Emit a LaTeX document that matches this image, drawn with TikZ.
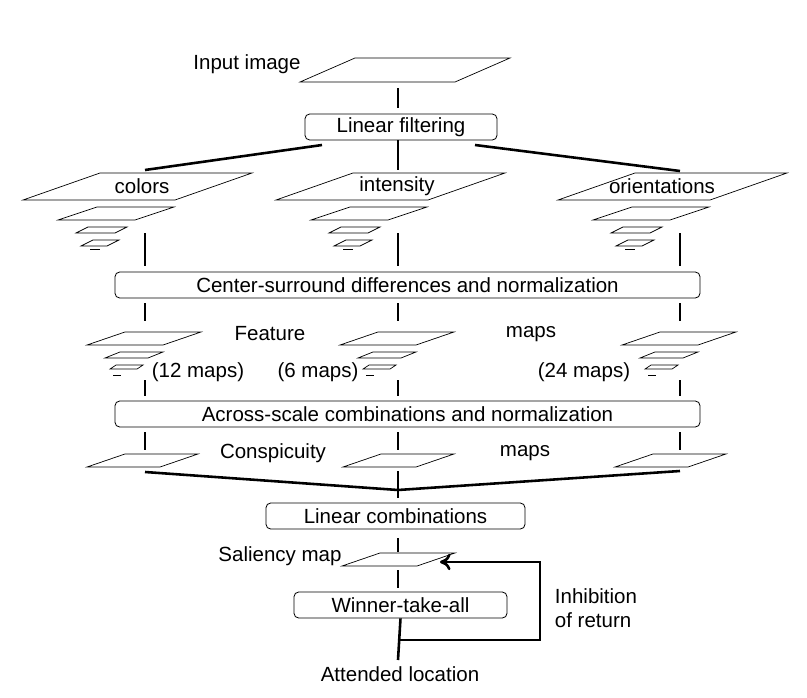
\documentclass[tikz,border=0pt]{standalone}
\usepackage{fontspec}
\setmainfont{Liberation Sans}
\usetikzlibrary{arrows,arrows.meta,positioning}
\tikzset{
 >=stealth',
 stage/.style={draw,rounded corners=4pt,line width=.7pt,inner sep=0pt,font=\fontsize{17.5}{20}\selectfont},
 lab/.style={font=\fontsize{17.5}{20}\selectfont,inner sep=0pt},
 flow/.style={line width=2.2pt},
 sheet/.style={line width=.6pt}
}
% bottom-left corner, width, skew, height
\newcommand{\plane}[5]{\draw[sheet] (#1,#2) -- ++(#3,0) -- ++(#4,-#5) -- ++(-#3,0) -- cycle;}
\newcommand{\pyramid}[1]{%
 \plane{#1-122}{200}{152}{77}{27}
 \plane{#1-87}{220}{77}{39}{13}
 \plane{#1-69}{233}{39}{12}{6}
 \plane{#1-64}{246}{26}{12}{6}
 \draw[sheet] (#1-55,249) -- (#1-45,249);}
\newcommand{\fmaps}[1]{%
 \plane{#1-58}{345}{76}{38}{13}
 \plane{#1-40}{358}{43}{15}{6}
 \plane{#1-35}{369}{27}{6}{4}
 \draw[sheet] (#1-32,375) -- (#1-24,375);}

\begin{document}
\begin{tikzpicture}[x=0.03cm,y=-0.03cm]
\useasboundingbox (0,0) rectangle (807,698);

%% input
\plane{300}{82}{155}{55}{24}
\path (247,64) node[lab,name=inp] {Input image};

%% boxes
\path (401,127) node[stage,minimum width=192*0.03cm,minimum height=26*0.03cm,name=filt] {Linear filtering};
\path (407.5,285) node[stage,minimum width=585*0.03cm,minimum height=26*0.03cm,name=cs] {Center-surround differences and normalization};
\path (407.5,414) node[stage,minimum width=585*0.03cm,minimum height=26*0.03cm,name=acs] {Across-scale combinations and normalization};
\path (395.5,516) node[stage,minimum width=259*0.03cm,minimum height=26*0.03cm,name=comb] {Linear combinations};
\path (400.5,605) node[stage,minimum width=213*0.03cm,minimum height=26*0.03cm,name=wta] {Winner-take-all};

%% pyramids
\pyramid{145}
\pyramid{398}
\pyramid{680}
\path (142,186) node[lab,name=col] {colors};
\path (397,186) node[lab,name=int] {intensity};
\path (662,186) node[lab,name=ori] {orientations};

%% feature maps
\fmaps{145}
\fmaps{398}
\fmaps{680}
\path (270,334) node[lab] {Feature};
\path (531,334) node[lab] {maps};
\path (198,372) node[lab] {(12 maps)};
\path (318,372) node[lab] {(6 maps)};
\path (584,372) node[lab] {(24 maps)};

%% conspicuity maps
\plane{87}{467}{73}{38}{13}
\plane{343}{467}{73}{38}{13}
\plane{615}{467}{73}{38}{13}
\path (273,453) node[lab] {Conspicuity};
\path (525,453) node[lab] {maps};

%% saliency
\plane{342}{566}{75}{38}{13}
\path (280,556) node[lab] {Saliency map};
\path (596,608) node[lab,align=left] {Inhibition\\of return};
\path (400,674) node[lab,name=att] {Attended location};

%% connectors
\foreach \a/\b in {{398,88}/{398,108},{398,140}/{398,170},{398,538}/{398,552},{398,570}/{398,588}}
  \draw[flow] (\a) -- (\b);
\draw[flow] (322,145) -- (145,170);
\draw[flow] (475,145) -- (680,171);
\foreach \c in {145,398,680} {
  \draw[flow] (\c,233) -- (\c,266);
  \draw[flow] (\c,303) -- (\c,321);
  \draw[flow] (\c,380) -- (\c,396);
  \draw[flow] (\c,432) -- (\c,450);
}
\coordinate (join) at (398,490);
\draw[flow] (145,472) -- (join) -- (680,471);
\draw[flow] (398,471) -- (398,498);
\coordinate (loop) at (398,640);
\coordinate (foot) at (398,660);
\draw[flow] (wta.south) -- (foot);
\draw[flow,-{To[length=9pt,width=14pt]}] (loop) -| (540,562) -- (440,562);
\end{tikzpicture}
\end{document}
